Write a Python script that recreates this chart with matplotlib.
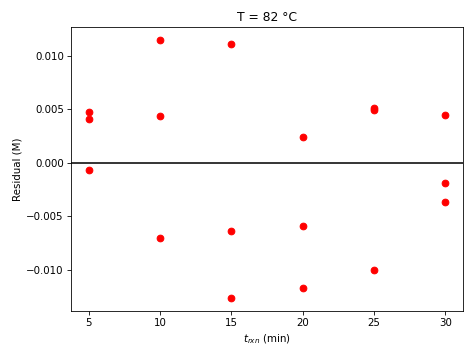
import matplotlib
matplotlib.use("Agg")
import matplotlib.pyplot as plt

t_rxn = [5, 5, 5, 10, 10, 10, 15, 15, 15, 20, 20, 20, 25, 25, 25, 30, 30, 30]
residual = [0.00471, 0.00411, -0.00067,
            0.01144, 0.00439, -0.00705,
            0.0111, -0.00637, -0.01262,
            0.0024, -0.00588, -0.01173,
            0.00511, 0.00496, -0.0100,
            0.00446, -0.00188, -0.00366]

dpi = 74.0625
fig = plt.figure(figsize=(474 / dpi, 355 / dpi), dpi=dpi)
ax = fig.add_axes([71 / 474, 1 - 310.7 / 355, (463 - 71) / 474, (310.7 - 27.3) / 355])
ax.plot(t_rxn, residual, 'o', color='red', markersize=6.5)
ax.axhline(0, color='black', linewidth=1.5)
ax.set_title('T = 82 °C')
ax.set_xlabel('$t_{rxn}$ (min)')
ax.set_ylabel('Residual (M)')
fig.savefig('out.png', dpi=dpi)
